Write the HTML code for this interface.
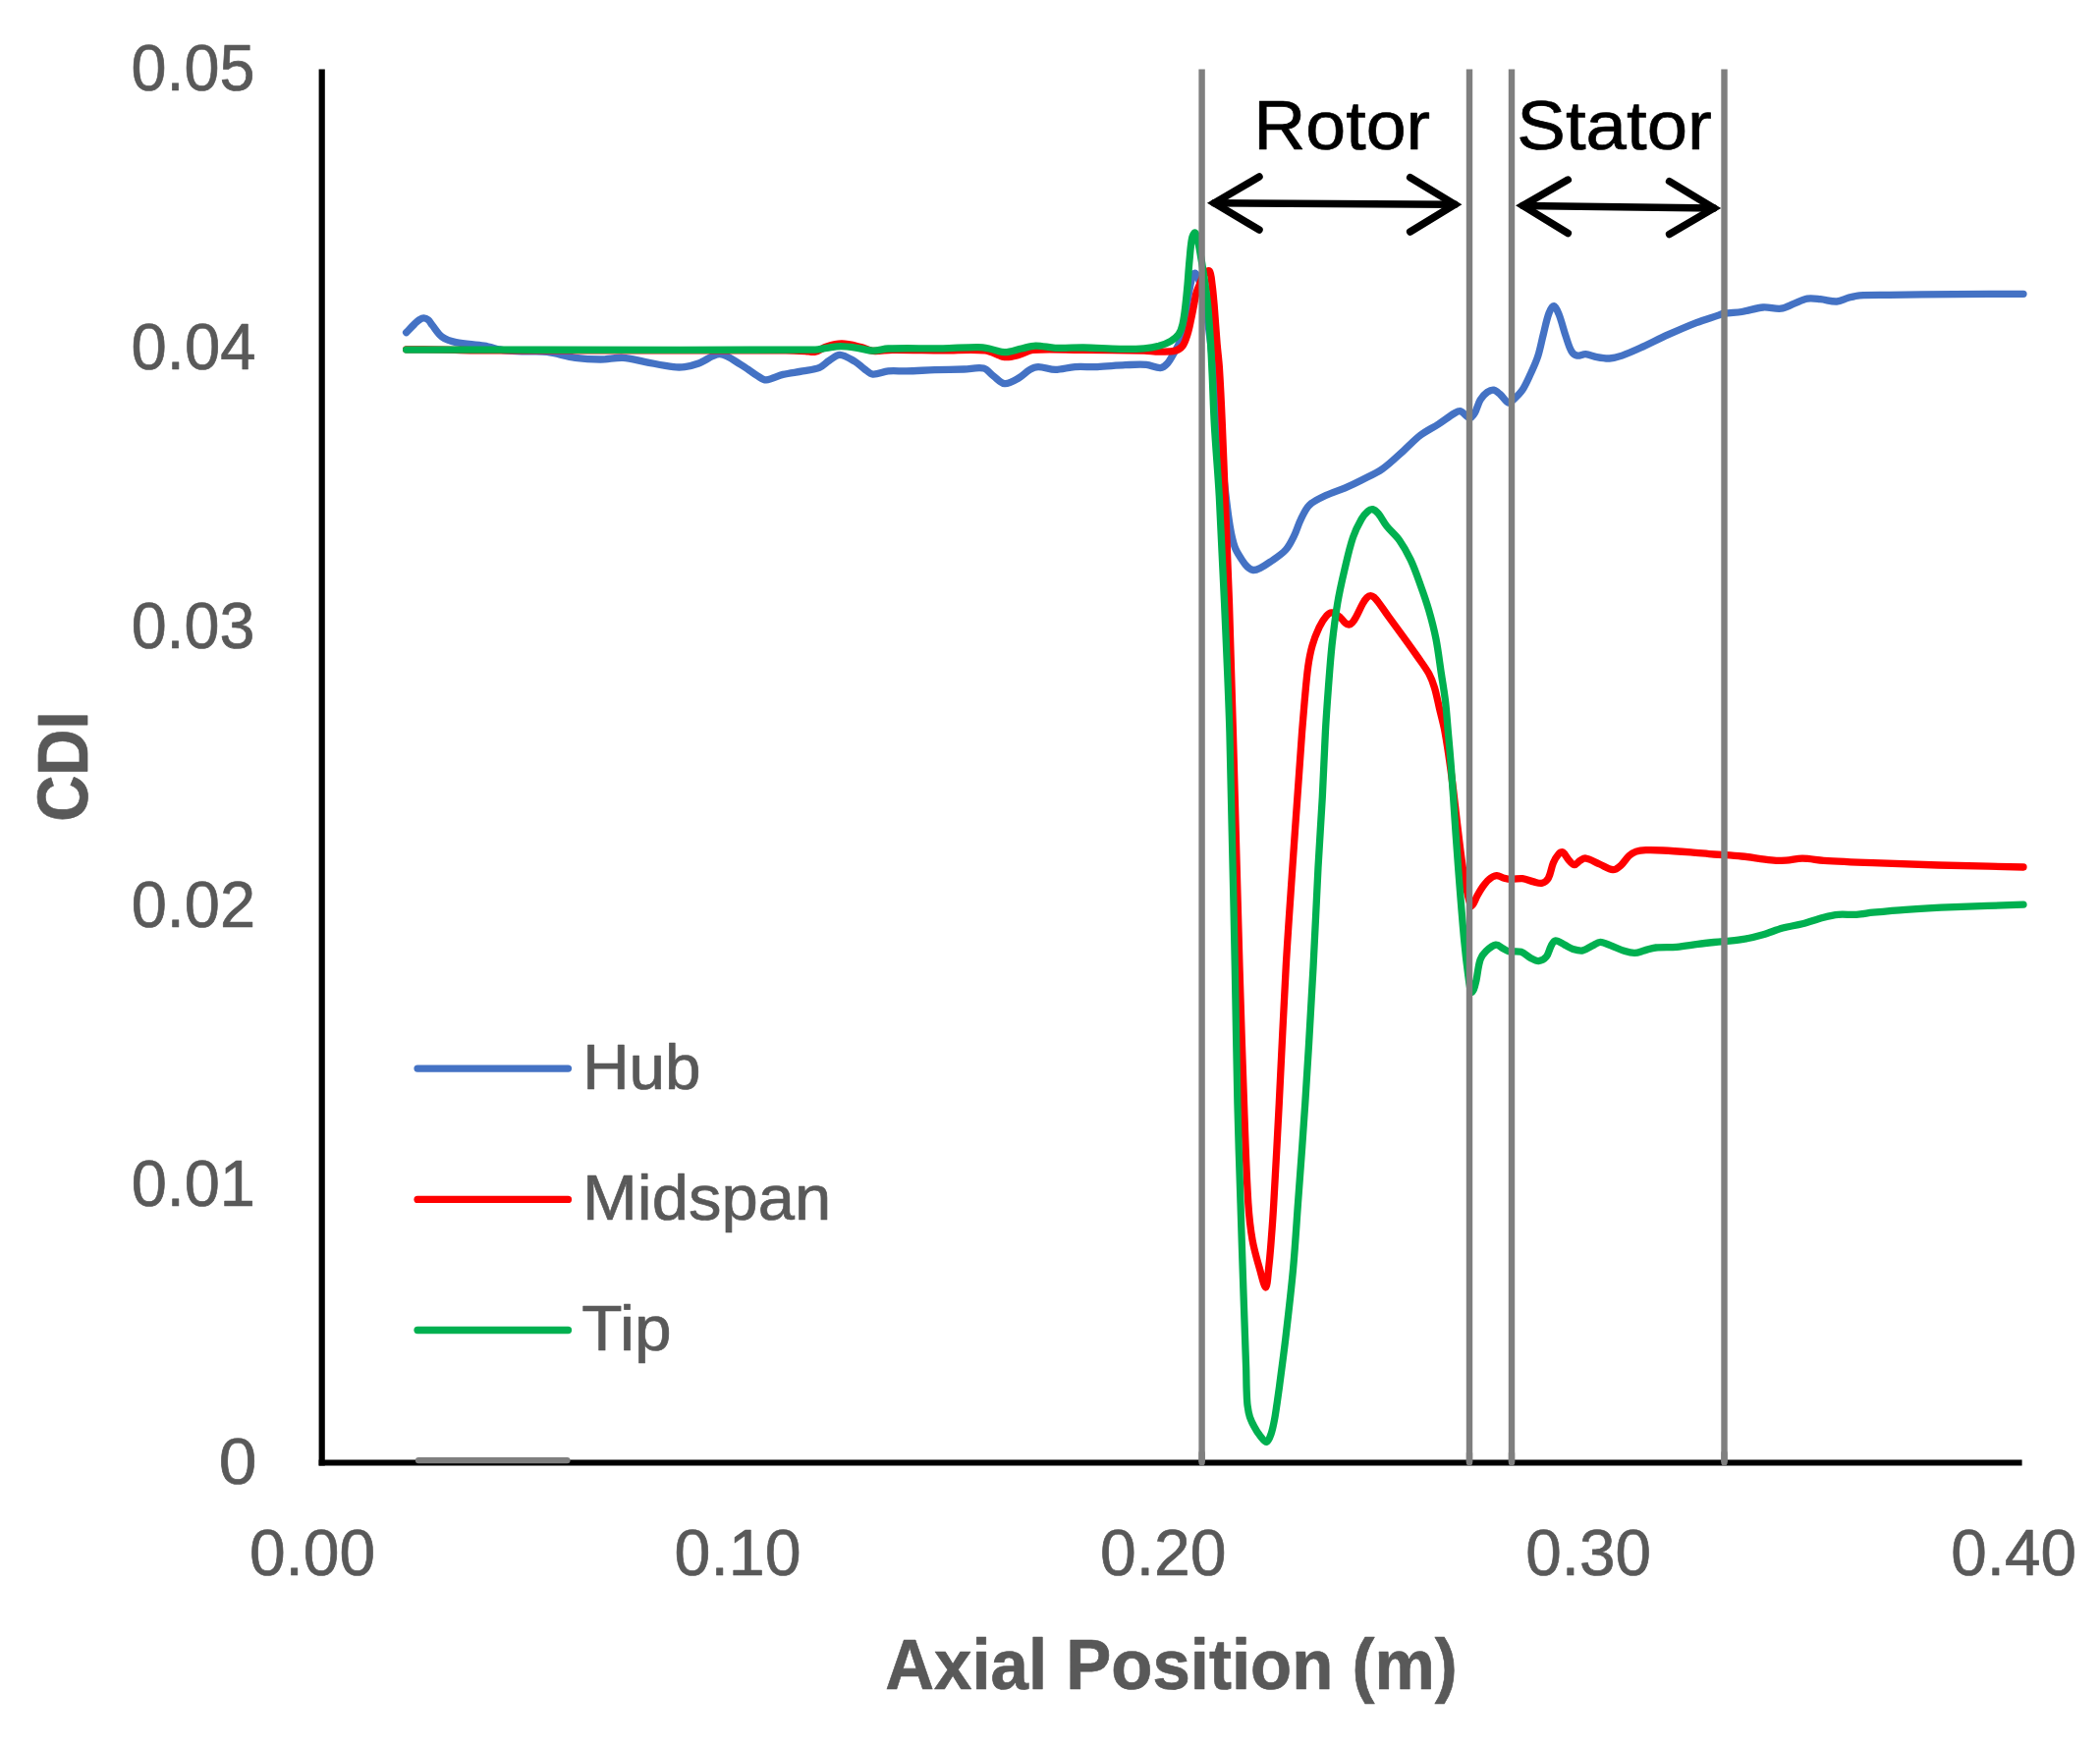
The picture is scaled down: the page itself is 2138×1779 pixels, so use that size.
<!DOCTYPE html>
<html lang="en"><head><meta charset="utf-8"><title>CDI vs Axial Position</title>
<style>
html,body{margin:0;padding:0;background:#fff}
body{width:2138px;height:1779px;overflow:hidden}
svg{display:block}
text{font-family:"Liberation Sans",sans-serif;fill:#595959;stroke:#595959;stroke-width:0.7;stroke-linejoin:round}
.c{fill:none;stroke-width:7.3;stroke-linecap:round;stroke-linejoin:round}
.g{stroke:#7f7f7f;stroke-width:6.4;stroke-linecap:round;fill:none}
.gb{stroke:#7f7f7f;stroke-width:6.4;stroke-linecap:butt;fill:none}
.a{stroke:#000;stroke-width:7.5;fill:none;stroke-linecap:round;stroke-linejoin:miter;stroke-miterlimit:10}
</style></head><body>
<svg width="2138" height="1779" viewBox="0 0 2138 1779">
<rect width="2138" height="1779" fill="#fff"/>
<!-- axes -->
<path d="M327.7 70.5V1492.6" stroke="#000" stroke-width="6.2" fill="none"/>
<path d="M324.6 1489.5H2058.6" stroke="#000" stroke-width="6.2" fill="none"/>
<!-- series -->
<path class="c" stroke="#4472c4" d="M413.6 338.6C416.4 335.7 419.1 332.8 422.0 330.0C423.6 328.5 425.2 326.8 427.0 325.6C428.3 324.8 429.9 323.9 431.4 323.9C432.9 323.9 434.8 324.8 436.0 325.8C437.6 327.1 438.6 329.3 440.0 331.0C443.3 335.0 445.9 340.0 450.0 342.9C454.0 345.8 459.3 347.5 464.3 348.6C473.6 350.6 483.4 350.5 492.9 352.1C500.1 353.3 507.1 356.1 514.3 357.0C522.8 358.0 531.4 357.6 540.0 357.9C545.7 358.1 551.5 357.7 557.1 358.5C566.7 359.8 576.1 363.0 585.7 364.3C594.2 365.5 602.8 366.0 611.4 366.0C619.0 366.0 626.7 363.9 634.3 364.3C642.0 364.7 649.5 367.2 657.1 368.6C666.6 370.3 676.1 372.4 685.7 373.6C689.5 374.1 693.4 374.1 697.1 373.6C701.9 372.9 706.8 371.7 711.4 370.0C718.7 367.4 725.8 360.5 732.9 360.7C740.1 360.9 747.4 367.4 754.3 371.4C760.2 374.8 765.5 379.4 771.4 382.9C774.1 384.5 777.0 387.1 780.0 386.9C785.6 386.6 791.3 382.8 797.1 381.4C803.7 379.8 810.5 379.2 817.1 377.9C822.9 376.8 829.0 376.4 834.3 374.3C838.0 372.8 840.8 369.3 844.3 367.1C847.7 365.0 851.4 361.3 855.0 361.4C859.9 361.6 865.3 365.2 870.0 367.9C873.6 370.0 876.6 373.3 880.0 375.7C882.8 377.7 885.5 380.8 888.6 381.1C893.6 381.5 899.0 378.4 904.3 377.9C910.4 377.3 916.7 378.1 922.9 377.9C932.4 377.7 941.9 377.0 951.4 376.7C961.4 376.4 971.4 376.3 981.4 376.0C988.1 375.8 995.3 373.6 1001.4 375.0C1005.3 375.9 1008.0 380.4 1011.4 382.9C1015.1 385.6 1018.8 390.4 1022.9 390.7C1027.4 391.1 1032.7 387.5 1037.1 385.0C1041.2 382.7 1044.5 378.7 1048.6 376.4C1051.2 374.9 1054.2 373.6 1057.1 373.6C1062.8 373.6 1068.6 376.4 1074.3 376.4C1081.0 376.4 1087.6 374.0 1094.3 373.6C1101.9 373.1 1109.5 373.9 1117.1 373.6C1126.6 373.2 1136.2 372.1 1145.7 371.7C1152.8 371.4 1160.0 370.8 1167.1 371.4C1171.9 371.8 1176.9 374.9 1181.4 374.6C1184.0 374.4 1186.7 372.1 1188.6 370.0C1191.5 366.7 1193.5 362.5 1195.7 358.6C1197.8 354.9 1200.2 351.2 1201.4 347.1C1204.0 338.3 1205.3 329.1 1207.0 320.0C1208.5 311.7 1209.5 303.3 1211.0 295.0C1211.8 290.8 1212.5 286.5 1213.8 282.5C1214.3 280.9 1215.7 278.0 1216.6 278.1C1217.7 278.2 1219.1 281.2 1219.8 283.0C1221.9 288.5 1223.9 294.2 1225.0 300.0C1227.9 314.9 1230.1 329.9 1232.0 345.0C1234.3 363.3 1235.8 381.7 1237.5 400.0C1239.1 416.7 1240.3 433.3 1242.0 450.0C1243.7 466.7 1245.5 483.4 1247.5 500.0C1248.9 512.0 1250.2 523.9 1252.2 535.8C1253.4 543.0 1254.8 550.4 1257.2 557.3C1258.8 561.9 1261.8 566.0 1264.4 570.1C1266.0 572.6 1267.8 575.2 1270.0 577.2C1271.6 578.7 1273.8 580.3 1275.9 580.5C1278.2 580.7 1280.8 579.5 1283.0 578.4C1286.5 576.7 1289.8 574.6 1293.0 572.3C1298.4 568.5 1304.4 564.9 1308.8 560.1C1312.5 556.1 1314.9 550.8 1317.4 545.8C1320.2 540.3 1321.7 534.1 1324.5 528.6C1327.0 523.6 1329.2 518.0 1333.1 514.3C1337.8 509.9 1344.3 507.2 1350.3 504.3C1356.3 501.4 1362.8 499.7 1368.9 497.1C1374.7 494.6 1380.5 491.9 1386.1 489.0C1393.3 485.3 1400.9 482.1 1407.5 477.5C1415.2 472.1 1421.9 465.2 1429.0 458.9C1434.8 453.8 1440.0 447.9 1446.2 443.2C1452.0 438.8 1458.7 435.7 1464.8 431.7C1470.1 428.3 1475.1 424.2 1480.5 421.0C1482.5 419.9 1485.0 418.2 1487.0 418.8C1490.3 419.8 1493.4 425.3 1496.4 425.7C1498.2 425.9 1500.2 422.7 1501.4 420.7C1503.8 416.5 1504.6 411.2 1507.1 407.1C1508.9 404.1 1511.5 401.3 1514.3 399.3C1516.1 398.0 1518.7 396.8 1520.7 397.1C1523.0 397.5 1525.2 399.7 1527.1 401.4C1530.2 404.0 1532.6 408.9 1535.7 410.0C1537.4 410.6 1539.7 407.9 1541.4 406.4C1544.5 403.6 1547.7 400.6 1550.0 397.1C1553.5 391.8 1555.9 385.8 1558.6 380.0C1561.2 374.4 1563.8 368.8 1565.7 362.9C1568.1 355.4 1569.4 347.6 1571.4 340.0C1573.2 332.9 1574.5 325.4 1577.1 318.6C1578.1 316.0 1580.5 311.5 1582.1 311.7C1583.9 311.9 1585.9 317.0 1587.1 320.0C1590.0 327.4 1591.7 335.3 1594.3 342.9C1596.0 348.0 1597.4 353.5 1600.0 357.9C1601.2 359.9 1603.6 361.7 1605.7 362.1C1608.3 362.6 1611.5 360.5 1614.3 360.7C1618.1 361.0 1621.8 362.9 1625.7 363.6C1629.9 364.4 1634.3 365.2 1638.6 365.0C1642.9 364.7 1647.3 363.5 1651.4 362.1C1657.7 359.9 1663.9 357.1 1670.0 354.3C1679.6 349.9 1689.0 345.0 1698.6 340.7C1708.0 336.5 1717.5 332.3 1727.1 328.6C1734.1 325.9 1741.4 323.8 1748.6 321.4C1750.7 320.7 1752.8 319.5 1755.0 319.2C1761.0 318.2 1767.3 318.4 1773.3 317.5C1780.6 316.4 1787.7 313.6 1795.0 313.0C1801.0 312.5 1807.4 314.9 1813.3 314.2C1817.9 313.6 1822.2 310.9 1826.7 309.2C1831.1 307.5 1835.4 305.0 1840.0 304.2C1844.3 303.5 1848.9 304.3 1853.3 304.7C1858.9 305.2 1864.5 307.3 1870.0 307.0C1874.0 306.8 1877.8 304.4 1881.7 303.3C1885.5 302.3 1889.4 301.1 1893.3 300.8C1903.2 300.1 1913.3 300.4 1923.3 300.3C1945.5 300.0 1967.8 299.9 1990.0 299.7C2013.3 299.5 2036.7 299.4 2060.0 299.3"/>
<path class="c" stroke="#ff0000" d="M413.6 355.8C425.7 355.9 437.9 356.0 450.0 356.2C466.7 356.4 483.3 356.9 500.0 356.9C600.0 357.1 700.0 356.7 800.0 356.9C806.7 356.9 813.3 357.2 820.0 357.5C823.3 357.7 826.8 359.0 830.0 358.3C834.0 357.4 837.4 354.1 841.4 352.9C846.4 351.4 851.9 349.9 857.1 350.0C863.7 350.1 870.5 352.1 877.0 353.6C881.0 354.5 884.6 357.1 888.6 357.4C895.1 358.0 901.9 356.3 908.6 356.3C925.7 356.2 942.9 356.8 960.0 356.9C974.3 357.0 988.8 355.4 1002.9 356.9C1009.8 357.6 1016.1 362.7 1022.9 363.6C1027.5 364.2 1032.5 362.6 1037.1 361.4C1042.0 360.2 1046.4 356.8 1051.4 356.4C1067.4 355.1 1083.8 356.3 1100.0 356.4C1121.7 356.5 1143.3 356.6 1165.0 357.0C1170.0 357.1 1175.0 358.0 1180.0 358.0C1185.3 358.1 1191.0 358.5 1196.0 357.3C1199.0 356.6 1202.2 354.7 1204.0 352.3C1206.5 349.0 1207.7 344.4 1209.0 340.3C1210.6 335.4 1211.5 330.3 1212.6 325.2C1213.7 320.2 1214.6 315.2 1215.6 310.2C1216.4 306.2 1216.9 302.1 1218.0 298.2C1219.0 294.7 1220.6 291.4 1222.0 288.0C1223.3 285.0 1224.1 281.5 1226.0 279.0C1227.2 277.5 1230.5 274.9 1231.3 276.0C1233.2 278.6 1233.4 285.4 1234.1 290.2C1235.0 296.8 1235.5 303.5 1236.1 310.2C1237.2 323.6 1238.0 336.9 1239.1 350.3C1239.8 358.4 1240.9 366.4 1241.4 374.5C1242.6 393.5 1243.5 412.6 1244.3 431.7C1245.4 456.1 1246.2 480.6 1247.2 505.0C1248.6 541.5 1250.3 578.0 1251.5 614.5C1253.0 658.0 1254.2 701.5 1255.4 745.0C1257.7 825.0 1259.7 905.0 1262.0 985.0C1263.4 1031.0 1264.8 1077.1 1266.5 1123.1C1267.7 1157.1 1268.7 1191.1 1270.8 1225.0C1271.6 1237.7 1272.9 1250.4 1275.1 1262.9C1276.8 1272.6 1279.6 1282.1 1282.3 1291.6C1284.2 1298.1 1287.1 1311.0 1288.7 1311.0C1290.2 1311.0 1290.9 1298.1 1291.6 1291.6C1292.7 1282.1 1293.5 1272.5 1294.2 1262.9C1295.2 1250.3 1296.1 1237.6 1296.8 1225.0C1298.8 1191.0 1300.5 1157.1 1302.3 1123.1C1304.7 1077.1 1306.6 1031.0 1309.2 985.0C1311.1 951.0 1313.6 917.1 1315.9 883.1C1317.5 859.3 1319.2 835.4 1320.9 811.6C1322.5 789.4 1324.0 767.2 1325.6 745.0C1326.4 734.9 1327.2 724.8 1328.1 714.7C1329.2 702.8 1330.1 690.8 1331.7 678.9C1332.7 671.7 1334.0 664.4 1336.0 657.4C1337.8 651.0 1340.3 644.8 1343.1 638.8C1345.0 634.8 1347.4 630.7 1350.3 627.4C1351.7 625.7 1354.1 623.6 1356.0 623.8C1358.8 624.1 1362.0 626.8 1364.6 628.8C1366.5 630.3 1367.7 632.8 1369.5 634.3C1370.5 635.2 1372.0 636.0 1373.2 636.0C1374.4 635.9 1375.9 635.0 1376.8 634.0C1378.2 632.6 1379.3 630.6 1380.3 628.8C1382.9 624.1 1384.9 619.1 1387.5 614.5C1388.7 612.4 1390.0 610.2 1391.6 608.6C1392.6 607.6 1394.1 606.6 1395.4 606.6C1396.7 606.6 1398.1 607.5 1399.2 608.4C1400.7 609.7 1402.0 611.4 1403.2 613.1C1406.7 617.8 1409.9 622.7 1413.3 627.4C1418.5 634.6 1423.8 641.7 1429.0 648.9C1433.8 655.5 1438.6 662.2 1443.3 668.9C1447.2 674.6 1451.5 680.1 1454.8 686.1C1457.2 690.6 1459.0 695.5 1460.5 700.4C1462.6 707.4 1463.9 714.7 1465.6 721.9C1467.4 729.6 1469.6 737.2 1471.0 745.0C1473.7 759.9 1475.8 775.0 1477.8 790.0C1479.9 806.0 1481.6 822.0 1483.5 838.0C1485.1 851.3 1486.6 864.7 1488.5 878.0C1489.8 887.0 1491.2 896.1 1493.0 905.0C1494.2 910.9 1495.6 918.4 1497.6 922.6C1498.0 923.4 1499.6 921.0 1500.2 920.0C1501.6 917.8 1502.4 915.2 1503.6 912.9C1505.2 910.0 1506.7 907.0 1508.6 904.3C1510.7 901.3 1512.9 898.0 1515.7 895.7C1517.9 893.8 1520.9 891.9 1523.6 891.7C1526.1 891.5 1528.7 893.6 1531.4 894.3C1533.7 894.9 1536.2 895.4 1538.6 895.4C1542.4 895.5 1546.3 894.2 1550.0 894.6C1553.9 895.0 1557.6 897.0 1561.4 897.9C1564.2 898.6 1567.4 899.9 1570.0 899.3C1572.4 898.7 1575.1 896.6 1576.4 894.3C1578.9 889.7 1579.3 883.6 1581.4 878.6C1582.8 875.3 1584.8 871.9 1587.1 869.3C1588.0 868.3 1590.1 867.3 1591.1 867.9C1593.4 869.4 1594.9 873.3 1597.1 875.7C1598.8 877.6 1600.9 880.6 1602.9 880.7C1604.7 880.8 1606.6 877.6 1608.6 876.4C1610.4 875.4 1612.4 873.7 1614.3 874.0C1619.1 874.9 1623.8 878.0 1628.6 880.0C1633.1 881.9 1637.7 885.4 1642.1 885.7C1644.8 885.9 1647.8 883.3 1650.0 881.4C1653.3 878.6 1655.4 874.3 1658.6 871.4C1660.6 869.6 1663.1 868.0 1665.7 867.1C1668.8 866.1 1672.3 865.8 1675.7 865.7C1681.4 865.5 1687.2 865.7 1692.9 866.0C1702.4 866.5 1711.9 867.2 1721.4 867.9C1729.3 868.5 1737.1 869.4 1745.0 870.0C1754.4 870.7 1763.9 871.1 1773.3 872.0C1783.3 873.0 1793.3 874.9 1803.3 875.8C1808.3 876.3 1813.3 876.5 1818.3 876.2C1823.9 875.9 1829.4 874.2 1835.0 874.2C1842.2 874.2 1849.4 875.8 1856.7 876.3C1873.3 877.3 1890.0 878.0 1906.7 878.7C1928.9 879.6 1951.1 880.4 1973.3 881.0C2002.2 881.8 2031.1 882.3 2060.0 883.0"/>
<path class="c" stroke="#00b050" d="M413.6 356.1C552.4 356.1 691.2 356.7 830.0 356.1C833.8 356.1 837.6 354.8 841.4 354.3C846.2 353.7 850.9 352.6 855.7 352.6C861.4 352.6 867.2 353.5 872.9 354.3C878.2 355.0 883.3 357.0 888.6 357.1C893.8 357.2 899.0 355.2 904.3 355.0C922.8 354.4 941.4 355.1 960.0 354.8C971.9 354.6 983.8 353.5 995.7 353.6C999.5 353.6 1003.3 354.3 1007.1 355.0C1012.4 356.0 1017.6 358.6 1022.9 358.6C1028.6 358.6 1034.3 356.2 1040.0 355.0C1044.8 354.0 1049.5 352.2 1054.3 352.1C1060.9 352.0 1067.6 354.0 1074.3 354.3C1083.8 354.7 1093.4 353.9 1102.9 354.0C1115.3 354.2 1127.6 355.1 1140.0 355.3C1148.3 355.4 1156.7 355.4 1165.0 354.8C1170.0 354.4 1175.1 353.6 1180.0 352.3C1184.1 351.1 1188.3 349.5 1192.0 347.3C1195.0 345.5 1198.0 343.1 1200.0 340.3C1202.0 337.4 1203.2 333.7 1204.0 330.2C1205.5 323.7 1206.2 316.9 1207.0 310.2C1207.8 303.6 1208.4 296.9 1209.0 290.2C1209.7 281.8 1210.2 273.5 1211.0 265.1C1211.7 257.7 1212.1 250.2 1213.5 243.0C1213.9 240.8 1215.6 236.8 1216.5 236.8C1217.4 236.8 1218.4 240.9 1219.0 243.0C1220.3 247.9 1221.1 253.0 1222.0 258.0C1223.3 265.3 1224.5 272.6 1225.6 280.0C1227.1 290.0 1228.6 300.1 1229.6 310.2C1230.9 323.5 1231.7 336.9 1232.6 350.3C1233.2 360.3 1233.6 370.3 1234.1 380.3C1234.9 397.4 1235.3 414.6 1236.3 431.7C1237.7 456.1 1239.9 480.5 1241.3 505.0C1243.4 541.5 1245.0 578.0 1246.6 614.5C1248.5 658.0 1250.6 701.5 1251.9 745.0C1254.2 825.0 1255.6 905.0 1257.3 985.0C1258.3 1031.0 1258.8 1077.1 1259.9 1123.1C1260.7 1157.1 1261.9 1191.0 1263.0 1225.0C1264.0 1256.7 1265.0 1288.5 1266.1 1320.2C1266.9 1345.1 1267.9 1370.1 1268.7 1395.0C1268.9 1402.4 1268.9 1409.8 1269.2 1417.2C1269.4 1422.0 1269.5 1426.8 1270.1 1431.5C1270.6 1435.3 1271.2 1439.2 1272.4 1442.9C1273.5 1446.3 1275.2 1449.6 1276.9 1452.7C1278.6 1455.9 1280.5 1459.0 1282.7 1461.8C1284.7 1464.2 1287.6 1468.6 1289.5 1468.3C1291.4 1468.0 1293.1 1463.0 1294.1 1460.1C1295.7 1455.5 1296.6 1450.6 1297.5 1445.8C1298.6 1440.1 1299.3 1434.3 1300.2 1428.6C1301.0 1422.9 1301.8 1417.1 1302.6 1411.4C1304.7 1395.3 1306.9 1379.2 1308.8 1363.1C1311.6 1339.3 1314.4 1315.5 1316.6 1291.6C1318.6 1269.4 1319.9 1247.2 1321.5 1225.0C1324.0 1191.0 1326.6 1157.1 1328.8 1123.1C1331.8 1077.1 1334.5 1031.0 1337.0 985.0C1338.9 951.0 1340.2 917.1 1342.0 883.1C1343.3 859.3 1345.0 835.4 1346.3 811.6C1347.5 789.4 1348.2 767.2 1349.4 745.0C1350.2 730.1 1351.3 715.3 1352.4 700.4C1353.5 686.1 1354.5 671.7 1356.0 657.4C1357.6 643.1 1359.3 628.7 1361.7 614.5C1363.6 603.0 1366.2 591.5 1368.9 580.1C1371.5 569.1 1373.9 557.9 1377.5 547.2C1379.7 540.7 1382.7 534.5 1386.1 528.6C1387.7 525.7 1390.0 523.0 1392.5 520.8C1393.8 519.6 1396.0 518.3 1397.5 518.6C1399.5 519.0 1401.7 521.1 1403.2 522.9C1406.5 526.8 1408.6 531.8 1411.8 535.8C1415.8 540.8 1421.0 544.9 1424.7 550.1C1429.1 556.3 1432.9 563.2 1436.2 570.1C1440.1 578.4 1443.1 587.2 1446.2 595.9C1449.3 604.4 1452.3 613.0 1454.8 621.7C1457.5 631.1 1460.0 640.7 1461.9 650.3C1464.2 662.1 1465.6 674.2 1467.4 686.1C1468.8 695.6 1470.5 705.1 1471.6 714.7C1472.8 724.8 1473.4 734.9 1474.3 745.0C1475.3 756.7 1476.4 768.3 1477.3 780.0C1478.1 790.7 1478.8 801.3 1479.6 812.0C1481.2 835.3 1482.7 858.7 1484.5 882.0C1486.4 907.0 1488.3 932.0 1490.6 957.0C1491.7 968.7 1493.0 980.4 1494.6 992.0C1495.4 998.2 1496.2 1006.2 1497.8 1010.5C1498.1 1011.4 1499.9 1008.7 1500.4 1007.5C1501.6 1004.7 1502.2 1001.6 1502.9 998.6C1504.5 991.5 1504.8 983.9 1507.1 977.1C1508.2 973.9 1510.5 970.9 1512.9 968.6C1515.7 965.9 1519.5 962.7 1522.9 962.1C1525.2 961.7 1527.6 964.5 1530.0 965.7C1531.9 966.7 1533.6 968.2 1535.7 968.6C1539.8 969.4 1544.6 968.1 1548.6 969.3C1552.3 970.4 1555.1 973.9 1558.6 975.7C1561.0 977.0 1563.9 978.8 1566.4 978.6C1569.1 978.4 1572.5 976.5 1574.3 974.3C1576.8 971.3 1577.3 966.5 1579.3 962.9C1580.4 961.0 1581.8 958.0 1583.6 957.9C1586.4 957.7 1589.8 960.6 1592.9 962.1C1595.8 963.5 1598.4 965.5 1601.4 966.4C1604.6 967.4 1608.2 968.5 1611.4 967.9C1614.9 967.3 1618.0 964.5 1621.4 962.9C1624.0 961.6 1626.6 959.3 1629.3 959.3C1632.8 959.3 1636.5 961.6 1640.0 962.9C1644.8 964.7 1649.4 967.1 1654.3 968.6C1657.5 969.6 1661.0 970.5 1664.3 970.4C1667.7 970.3 1671.0 968.7 1674.3 967.9C1678.1 966.9 1681.8 965.4 1685.7 965.0C1692.8 964.2 1700.0 964.9 1707.1 964.3C1714.3 963.7 1721.4 962.3 1728.6 961.4C1734.1 960.7 1739.5 960.1 1745.0 959.5C1754.4 958.5 1764.0 958.2 1773.3 956.7C1780.6 955.6 1787.9 953.7 1795.0 951.7C1801.8 949.8 1808.2 946.8 1815.0 945.0C1821.6 943.2 1828.4 942.5 1835.0 940.8C1842.3 938.9 1849.4 936.1 1856.7 934.2C1861.6 932.9 1866.6 931.7 1871.7 931.3C1877.7 930.8 1883.9 931.7 1890.0 931.3C1895.6 931.0 1901.1 929.8 1906.7 929.2C1917.8 928.1 1928.9 927.0 1940.0 926.3C1956.7 925.2 1973.3 924.4 1990.0 923.7C2013.3 922.7 2036.7 922.0 2060.0 921.2"/>
<!-- region boundary lines -->
<path class="gb" d="M1223.6 70.4V1489M1496 70.4V1489M1539 70.4V1489M1755.5 70.4V1489"/>
<path class="g" d="M1223.6 1480V1489.3M1496 1480V1489.3M1539 1480V1489.3M1755.5 1480V1489.3"/>
<!-- legend -->
<g stroke-width="7.4" stroke-linecap="round" fill="none">
<path stroke="#4472c4" d="M425.1 1088.1H578.4"/>
<path stroke="#ff0000" d="M425.1 1221.4H578.4"/>
<path stroke="#00b050" d="M425.1 1354.5H578.4"/>
<path stroke="#7f7f7f" stroke-width="6.4" d="M426.1 1487.1H577.4"/>
</g>
<text x="593.19" y="1108.60" font-size="64.80" textLength="120.39" lengthAdjust="spacingAndGlyphs">Hub</text>
<text x="593.07" y="1241.90" font-size="64.80" textLength="253.15" lengthAdjust="spacingAndGlyphs">Midspan</text>
<text x="592.29" y="1374.80" font-size="64.80" textLength="91.43" lengthAdjust="spacingAndGlyphs">Tip</text>
<!-- arrows -->
<path class="a" d="M1236.3 206.8L1481.2 208.2"/>
<path class="a" d="M1282 180L1236.3 206.8L1282 234"/>
<path class="a" d="M1435.7 180.8L1481.2 208.2L1435.7 236"/>
<path class="a" d="M1550.4 209.4L1744.9 212"/>
<path class="a" d="M1596.3 183.1L1550.4 209.4L1596.3 237.5"/>
<path class="a" d="M1699.6 184.6L1744.9 212L1699.6 238.6"/>
<text x="1276.27" y="152.20" font-size="70.90" style="fill:#000;stroke:#000" textLength="179.74" lengthAdjust="spacingAndGlyphs">Rotor</text>
<text x="1544.36" y="152.20" font-size="70.90" style="fill:#000;stroke:#000" textLength="198.42" lengthAdjust="spacingAndGlyphs">Stator</text>
<!-- y tick labels -->
<text x="133.55" y="91.70" font-size="66.90" textLength="125.91" lengthAdjust="spacingAndGlyphs">0.05</text>
<text x="133.53" y="375.60" font-size="66.90" textLength="126.96" lengthAdjust="spacingAndGlyphs">0.04</text>
<text x="133.65" y="659.50" font-size="66.90" textLength="125.79" lengthAdjust="spacingAndGlyphs">0.03</text>
<text x="133.64" y="944.20" font-size="66.90" textLength="126.40" lengthAdjust="spacingAndGlyphs">0.02</text>
<text x="133.64" y="1228.00" font-size="66.90" textLength="126.34" lengthAdjust="spacingAndGlyphs">0.01</text>
<text x="222.85" y="1511.30" font-size="66.90" textLength="38.69" lengthAdjust="spacingAndGlyphs">0</text>
<!-- x tick labels -->
<text x="253.90" y="1604.30" font-size="66.90" textLength="128.28" lengthAdjust="spacingAndGlyphs">0.00</text>
<text x="686.59" y="1604.30" font-size="66.90" textLength="128.91" lengthAdjust="spacingAndGlyphs">0.10</text>
<text x="1120.03" y="1604.30" font-size="66.90" textLength="128.49" lengthAdjust="spacingAndGlyphs">0.20</text>
<text x="1553.34" y="1604.30" font-size="66.90" textLength="127.76" lengthAdjust="spacingAndGlyphs">0.30</text>
<text x="1986.34" y="1604.30" font-size="66.90" textLength="127.76" lengthAdjust="spacingAndGlyphs">0.40</text>
<!-- titles -->
<text x="901.28" y="1720.40" font-size="72.20" font-weight="bold" textLength="582.47" lengthAdjust="spacingAndGlyphs">Axial Position (m)</text>
<text x="89.40" y="836.86" font-size="72.80" font-weight="bold" textLength="112.64" lengthAdjust="spacingAndGlyphs" transform="rotate(-90 89.40 836.86)">CDI</text>
</svg>
</body></html>
